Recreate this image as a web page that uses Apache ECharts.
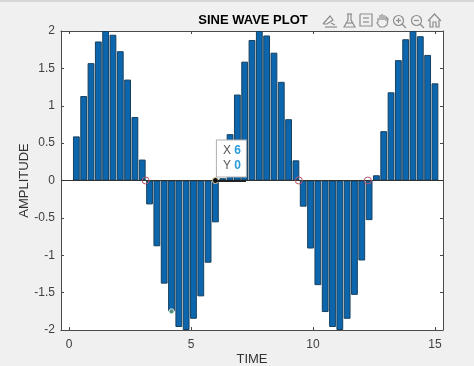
<!DOCTYPE html>
<html>
<head>
<meta charset="utf-8">
<style>
html,body{margin:0;padding:0;background:#f0f0f0;}
#chart{width:474px;height:366px;}
</style>
<script src="https://cdn.jsdelivr.net/npm/echarts@6/dist/echarts.min.js"></script>
</head>
<body>
<div id="chart"></div>
<script>
var time = [0.3,0.6,0.9,1.2,1.5,1.8,2.1,2.4,2.7,3.0,
  3.3,3.6,3.9,4.2,4.5,4.8,5.1,5.4,5.7,6.0,
  6.3,6.6,6.9,7.2,7.5,7.8,8.1,8.4,8.7,9.0,
  9.3,9.6,9.9,10.2,10.5,10.8,11.1,11.4,11.7,12.0,
  12.3,12.6,12.9,13.2,13.5,13.8,14.1,14.4,14.7,15.0];
var amplitude = [0.59,1.13,1.57,1.86,2.0,1.95,1.73,1.35,0.85,0.28,
  -0.32,-0.88,-1.38,-1.75,-1.96,-2.0,-1.85,-1.55,-1.1,-0.56,
  0.03,0.62,1.15,1.59,1.88,2.0,1.94,1.71,1.32,0.82,
  0.27,-0.35,-0.91,-1.4,-1.76,-1.96,-2.0,-1.85,-1.53,-1.07,
  -0.53,0.07,0.66,1.18,1.61,1.89,2.0,1.93,1.68,1.3];
var zeroPoints = [[3.14,0],[9.42,0],[12.25,0]];
var minPoint = [[4.2,-1.75]];
var tipPoint = [[6,0]];
var xTicks = [0,5,10,15];

var barData = time.map(function(t,i){ return [t,amplitude[i]]; });
var axisColor = '#4a4a4a';
var iconColor = '#8d8d8d';

// toolbar icons are only decoration, drawn as plain outlines
function icon(x,y,lines,circles){
  var kids = lines.map(function(pts){
    return {type:'polyline',shape:{points:pts},style:{fill:null,stroke:iconColor,lineWidth:1.2}};
  });
  (circles||[]).forEach(function(c){
    kids.push({type:'circle',shape:{cx:c[0],cy:c[1],r:c[2]},style:{fill:null,stroke:iconColor,lineWidth:1.2}});
  });
  return {type:'group',x:x,y:y,z:20,children:kids};
}

var chart = echarts.init(document.getElementById('chart'));
chart.setOption({
  backgroundColor:'#f0f0f0',
  animation:false,
  textStyle:{fontFamily:'"Liberation Sans",Arial,sans-serif'},
  title:{text:'SINE WAVE PLOT',left:253,top:14,textAlign:'center',padding:0,
    textStyle:{fontSize:13,fontWeight:'bold',color:'#000'}},
  grid:{left:61,right:31,top:31,bottom:36,outerBoundsMode:'none',show:true,backgroundColor:'#fff',borderWidth:0},
  xAxis:[{
    type:'value',min:-0.33,max:15.33,position:'bottom',
    name:'TIME',nameLocation:'middle',nameGap:23,nameMoveOverlap:false,
    nameTextStyle:{fontSize:13,color:'#333'},
    splitLine:{show:false},
    axisLine:{onZero:false,lineStyle:{color:axisColor}},
    axisTick:{inside:true,length:3,customValues:xTicks,lineStyle:{color:axisColor}},
    axisLabel:{fontSize:12,color:'#404040',margin:9,customValues:xTicks}
  },{
    type:'value',min:-0.33,max:15.33,position:'top',
    splitLine:{show:false},
    axisLine:{onZero:false,lineStyle:{color:axisColor}},
    axisTick:{inside:true,length:3,customValues:xTicks,lineStyle:{color:axisColor}},
    axisLabel:{show:false}
  }],
  yAxis:[{
    type:'value',min:-2,max:2,interval:0.5,position:'left',
    name:'AMPLITUDE',nameLocation:'middle',nameGap:30,nameRotate:90,nameMoveOverlap:false,
    nameTextStyle:{fontSize:13,color:'#333'},
    splitLine:{show:false},
    axisLine:{show:true,onZero:false,lineStyle:{color:axisColor}},
    axisTick:{show:true,inside:true,length:3,lineStyle:{color:axisColor}},
    axisLabel:{fontSize:12,color:'#404040',margin:6}
  },{
    type:'value',min:-2,max:2,interval:0.5,position:'right',
    splitLine:{show:false},
    axisLine:{show:true,onZero:false,lineStyle:{color:axisColor}},
    axisTick:{show:true,inside:true,length:3,lineStyle:{color:axisColor}},
    axisLabel:{show:false}
  }],
  series:[{
    type:'bar',
    data:barData,
    barWidth:6.8,
    itemStyle:{color:'#0c66ae',borderColor:'#17405f',borderWidth:1},
    markLine:{
      silent:true,symbol:'none',label:{show:false},
      lineStyle:{color:'#333',width:1,type:'solid'},
      data:[{yAxis:0}]
    },
    z:2
  },{
    type:'scatter',
    data:zeroPoints,
    symbol:'circle',symbolSize:7,
    itemStyle:{color:'rgba(255,255,255,0)',borderColor:'#b5566a',borderWidth:1,opacity:1},
    z:5
  },{
    type:'scatter',
    data:minPoint,
    symbolSize:5,
    itemStyle:{color:'#4f8f7f',borderColor:'#dfe8e4',borderWidth:1,opacity:1},
    z:5
  },{
    type:'scatter',
    data:tipPoint,
    symbolSize:6,
    itemStyle:{color:'#111',borderColor:'#e9d9a8',borderWidth:1,opacity:1},
    label:{
      show:true,position:'inside',
      offset:[16,-22],
      backgroundColor:'#fff',
      borderColor:'#b0b0b0',borderWidth:1,
      padding:[3,5,3,6],
      lineHeight:15,
      formatter:function(p){
        return '{k|X} {v|'+p.value[0]+'}\n{k|Y} {v|'+p.value[1]+'}';
      },
      rich:{
        k:{fontSize:12,color:'#555',lineHeight:15},
        v:{fontSize:12,fontWeight:'bold',color:'#2a9bd6',lineHeight:15}
      }
    },
    z:10
  }],
  graphic:[
    {type:'rect',shape:{x:0,y:0,width:474,height:2},style:{fill:'#d6d6d6'},z:20},
    {type:'rect',shape:{x:217,y:180,width:29,height:2},style:{fill:'#222'},z:20},
    icon(323,14,[[[0,10],[7,2],[10,6],[4,10],[0,10]],[[2,13],[14,13]],[[8,9],[12,11]]]),
    icon(343,13,[[[4,1],[9,1]],[[5,1],[5,7],[1,14],[12,14],[8,7],[8,1]],[[3,10],[10,10]]]),
    icon(359,14,[[[1,0],[13,0],[13,12],[1,12],[1,0]],[[4,4],[10,4]],[[4,8],[10,8]]]),
    icon(376,14,[[[2,8],[2,4]],[[4,6],[4,1]],[[6,6],[6,0]],[[8,6],[8,1]],[[10,7],[10,3],[12,5],[11,11],[8,13],[4,13],[1,9],[2,8]]]),
    icon(393,15,[[[9,9],[13,13]],[[3,5.5],[8,5.5]],[[5.5,3],[5.5,8]]],[[5.5,5.5,5]]),
    icon(411,15,[[[9,9],[13,13]],[[3,5.5],[8,5.5]]],[[5.5,5.5,5]]),
    icon(428,14,[[[0,7],[6.5,0],[13,7]],[[2,6],[2,13],[5,13],[5,8],[8,8],[8,13],[11,13],[11,6]]])
  ]
});
</script>
</body>
</html>
